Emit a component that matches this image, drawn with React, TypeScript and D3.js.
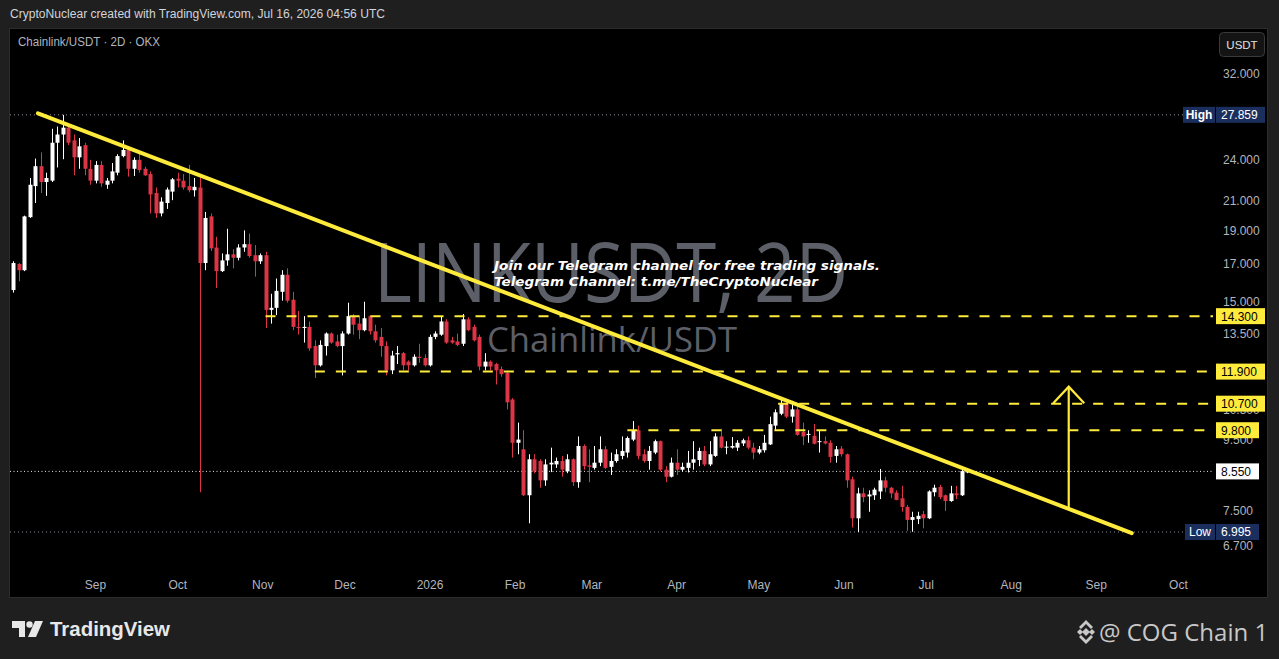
import * as d3 from 'd3'

const W = 1279
const H = 659

// 2D candles, first bar opens Aug 1 2025
const firstBar = new Date(2025, 7, 1)

const opens = [
  15.59, 17.0, 16.65, 19.85, 22.0, 23.5, 22.3, 22.4, 25.4, 26.1, 26.7, 25.6, 24.2, 25.2, 23.3, 22.4, 23.6, 22.1, 22.4, 23.0,
  24.3, 24.8, 23.3, 24.0, 23.3, 22.9, 21.5, 20.1, 20.8, 21.6, 22.55, 22.4, 22.0, 21.7, 21.9, 17.05, 19.9, 17.95, 16.6, 17.2,
  17.55, 17.35, 17.95, 18.15, 17.5, 17.15, 17.5, 14.6, 14.7, 15.5, 16.4, 15.1, 13.8, 13.75, 13.8, 12.95, 12.15, 12.95, 13.5, 13.15,
  12.95, 13.5, 14.3, 13.95, 13.65, 14.3, 13.6, 13.35, 12.95, 11.95, 12.6, 12.65, 12.3, 12.15, 12.5, 12.45, 12.15, 13.35, 13.45, 14.05,
  13.2, 13.15, 13.05, 14.15, 13.8, 13.35, 12.1, 12.3, 12.2, 12.0, 11.85, 10.85, 9.4, 9.2, 7.9, 8.9, 8.85, 8.3, 8.75, 8.75,
  8.85, 8.55, 8.9, 8.25, 9.3, 8.72, 8.65, 8.8, 9.2, 8.68, 8.85, 9.0, 9.1, 9.5, 9.8, 9.05, 8.85, 9.1, 9.45, 8.6,
  8.4, 8.8, 8.6, 8.65, 8.8, 8.88, 9.15, 8.75, 9.0, 9.6, 9.25, 9.25, 9.25, 9.38, 9.48, 9.25, 9.1, 9.17, 9.35, 9.95,
  10.35, 10.7, 10.25, 10.5, 9.75, 9.65, 9.62, 9.43, 9.45, 9.4, 9.0, 9.22, 9.05, 8.33, 7.32, 7.95, 7.87, 7.9, 8.0, 8.3,
  8.1, 7.97, 7.82, 7.6, 7.28, 7.3, 7.42, 7.32, 7.98, 8.12, 7.9, 7.75, 7.95, 7.9, 8.54,
]
const highs = [
  17.15, 17.05, 19.95, 22.6, 24.1, 24.6, 23.0, 26.6, 26.8, 27.859, 26.8, 26.1, 25.8, 25.4, 24.0, 23.9, 23.9, 22.6, 23.75, 24.45,
  25.6, 24.9, 24.2, 24.7, 23.45, 23.1, 21.9, 21.2, 21.9, 22.6, 23.0, 22.9, 23.6, 22.6, 22.75, 20.2, 20.1, 18.6, 17.6, 19.1,
  17.85, 18.15, 19.0, 18.8, 18.1, 17.6, 17.7, 15.4, 16.2, 16.65, 16.75, 15.5, 14.55, 14.3, 14.05, 13.2, 13.2, 13.55, 13.55, 13.45,
  13.6, 14.95, 14.4, 14.3, 15.0, 14.35, 13.9, 13.75, 13.15, 12.75, 12.95, 12.7, 12.35, 12.6, 13.05, 12.6, 13.45, 13.6, 14.3, 14.15,
  13.35, 13.5, 14.4, 14.25, 13.9, 13.45, 12.65, 12.35, 12.25, 12.1, 11.9, 10.9, 10.05, 9.8, 9.05, 9.05, 8.9, 8.9, 9.25, 8.95,
  9.0, 9.05, 8.93, 9.6, 9.35, 9.2, 9.3, 9.6, 9.3, 9.1, 9.2, 9.6, 9.6, 10.1, 9.95, 9.2, 9.3, 9.5, 9.47, 8.7,
  8.95, 9.2, 8.8, 9.15, 9.45, 9.25, 9.3, 9.45, 9.7, 9.85, 9.45, 9.58, 9.48, 9.53, 9.6, 9.4, 9.3, 9.65, 10.25, 10.5,
  10.9, 10.8, 10.8, 10.6, 10.05, 9.8, 10.0, 9.8, 9.6, 9.48, 9.3, 9.3, 9.07, 8.4, 8.1, 8.1, 8.03, 8.1, 8.62, 8.4,
  8.12, 8.03, 8.15, 7.65, 7.48, 7.48, 7.5, 8.03, 8.18, 8.18, 7.92, 8.15, 8.15, 8.63, 8.62,
]
const lows = [
  15.46, 16.05, 16.6, 19.8, 20.8, 21.5, 21.3, 22.3, 23.4, 24.05, 25.2, 22.8, 23.3, 22.8, 22.1, 22.2, 21.95, 21.8, 22.2, 22.8,
  24.2, 22.7, 22.75, 23.0, 22.75, 20.1, 19.8, 19.9, 20.4, 21.0, 21.9, 21.75, 21.55, 21.25, 7.98, 16.65, 17.75, 15.7, 16.55, 16.9,
  16.75, 17.2, 17.7, 17.35, 16.3, 17.0, 13.75, 13.95, 14.35, 15.05, 14.95, 13.65, 13.45, 13.1, 12.75, 11.65, 12.1, 12.55, 13.05, 12.9,
  11.75, 13.45, 13.45, 13.25, 13.6, 13.45, 13.1, 12.5, 11.75, 11.8, 12.2, 11.95, 11.95, 12.1, 12.25, 12.1, 12.1, 13.25, 13.4, 13.05,
  13.05, 12.95, 12.95, 13.6, 13.15, 11.95, 11.95, 11.95, 11.4, 11.7, 10.5, 8.95, 9.05, 7.88, 7.2, 8.5, 8.1, 8.15, 8.53, 8.65,
  8.4, 8.5, 8.15, 8.1, 8.6, 8.25, 8.6, 8.7, 8.62, 8.45, 8.8, 8.9, 8.95, 9.45, 8.9, 8.8, 8.6, 9.05, 8.55, 8.25,
  8.38, 8.45, 8.55, 8.52, 8.6, 8.7, 8.7, 8.7, 8.97, 9.23, 9.05, 9.22, 9.15, 9.3, 9.2, 8.9, 9.05, 9.1, 9.33, 9.8,
  10.3, 10.2, 10.05, 9.62, 9.33, 9.4, 9.35, 9.1, 9.35, 8.8, 8.8, 8.98, 8.1, 7.1, 6.995, 7.72, 7.48, 7.78, 7.8, 7.98,
  7.82, 7.77, 7.48, 7.02, 7.0, 7.18, 7.08, 7.3, 7.87, 7.8, 7.5, 7.73, 7.8, 7.88, 8.5,
]
const closes = [
  17.05, 16.65, 19.9, 22.1, 23.5, 22.3, 22.6, 25.4, 26.1, 26.7, 25.4, 24.2, 25.1, 23.3, 22.4, 23.6, 22.2, 22.4, 23.1, 24.3,
  24.8, 23.3, 24.0, 23.2, 22.8, 21.4, 20.1, 20.9, 21.75, 22.5, 22.4, 21.9, 21.7, 21.95, 17.05, 19.8, 17.9, 16.6, 17.2, 17.55,
  17.35, 17.95, 18.15, 17.45, 17.15, 17.5, 14.6, 14.7, 15.55, 16.4, 15.05, 13.8, 13.75, 13.8, 12.85, 12.15, 13.0, 13.5, 13.1, 12.95,
  13.5, 14.3, 13.9, 13.65, 14.2, 13.6, 13.2, 12.95, 11.95, 12.55, 12.65, 12.15, 12.15, 12.5, 12.45, 12.15, 13.35, 13.5, 14.05, 13.1,
  13.1, 13.0, 14.15, 13.65, 13.2, 12.1, 12.3, 12.1, 11.95, 11.8, 10.75, 9.4, 9.5, 7.9, 8.9, 8.55, 8.3, 8.75, 8.8, 8.85,
  8.6, 8.9, 8.25, 9.3, 8.7, 8.68, 8.8, 9.2, 8.65, 8.85, 9.05, 9.15, 9.55, 9.8, 9.0, 8.85, 9.15, 9.45, 8.6, 8.4,
  8.8, 8.6, 8.68, 8.8, 8.9, 9.15, 8.75, 9.05, 9.6, 9.25, 9.28, 9.3, 9.4, 9.48, 9.25, 9.1, 9.2, 9.4, 10.0, 10.4,
  10.7, 10.25, 10.5, 9.65, 9.6, 9.68, 9.37, 9.45, 9.38, 8.97, 9.2, 9.05, 8.3, 7.32, 7.95, 7.85, 7.92, 8.05, 8.3, 8.1,
  7.95, 7.78, 7.6, 7.28, 7.35, 7.38, 7.32, 8.0, 8.1, 7.85, 7.75, 7.95, 7.9, 8.56, 8.55,
]

// visible price-scale labels (the others sit under the level boxes)
const priceTicks = [32, 24, 21, 19, 17, 15, 13.5, 10.5, 9.5, 7.5, 6.7]
const monthTicks = [
  { d: new Date(2025, 8, 1), t: 'Sep' },
  { d: new Date(2025, 9, 1), t: 'Oct' },
  { d: new Date(2025, 10, 1), t: 'Nov' },
  { d: new Date(2025, 11, 1), t: 'Dec' },
  { d: new Date(2026, 0, 1), t: '2026' },
  { d: new Date(2026, 1, 1), t: 'Feb' },
  { d: new Date(2026, 2, 1), t: 'Mar' },
  { d: new Date(2026, 3, 1), t: 'Apr' },
  { d: new Date(2026, 4, 1), t: 'May' },
  { d: new Date(2026, 5, 1), t: 'Jun' },
  { d: new Date(2026, 6, 1), t: 'Jul' },
  { d: new Date(2026, 7, 1), t: 'Aug' },
  { d: new Date(2026, 8, 1), t: 'Sep' },
  { d: new Date(2026, 9, 1), t: 'Oct' },
]

// horizontal support / resistance levels and where they start
const levels = [14.3, 11.9, 10.7, 9.8]
const levelFrom = [new Date(2025, 10, 2), new Date(2025, 10, 20), new Date(2026, 4, 8), new Date(2026, 2, 14)]

const highPrice = 27.859
const lowPrice = 6.995
const lastPrice = 8.55

// descending trendline and target arrow
const trendStart = { d: new Date(2025, 7, 11), p: 28.0 }
const trendEnd = { d: new Date(2026, 8, 14), p: 6.97 }
const arrow = { d: new Date(2026, 7, 22), from: 7.6, to: 11.32 }

const YELLOW = '#ffeb3b'
const RED = '#dc3545'
const AXIS_TXT = '#b2b5be'
const FONT = '"Liberation Sans", Arial, sans-serif'

const plot = { x0: 10, x1: 1213, y0: 29, y1: 597 }

export default function App() {
  const x = d3
    .scaleTime()
    .domain([new Date(2025, 7, 2), new Date(2026, 6, 16)])
    .range([13.3, 967.3])
  const y = d3.scaleLog().domain([6.7, 32]).range([545, 73])

  const bars = opens.map((o, i) => ({
    cx: x(d3.timeDay.offset(firstBar, 2 * i + 1)),
    o,
    h: highs[i],
    l: lows[i],
    c: closes[i],
  }))

  const fmt = d3.format('.3f')
  const ax = x(arrow.d)
  const aTop = y(arrow.to)

  const priceBox = (p: number, fill: string, color: string, key: string) => {
    const txt = fmt(p)
    const w = txt.length > 5 ? 49 : 43
    return (
      <g key={key}>
        <rect x={1216} y={y(p) - 8} width={w} height={16} fill={fill} />
        <text x={1221} y={y(p) + 4.5} fontSize={12} fill={color} fontFamily={FONT}>
          {txt}
        </text>
      </g>
    )
  }

  return (
    <div style={{ position: 'fixed', left: 0, top: 0 }}>
      <svg width={W} height={H} style={{ display: 'block', background: '#1f1f1f' }}>
        <text x={10} y={18} fontSize={12.5} fill="#d1d4dc" fontFamily={FONT} textLength={375} lengthAdjust="spacingAndGlyphs">
          CryptoNuclear created with TradingView.com, Jul 16, 2026 04:56 UTC
        </text>

        <rect x={9.5} y={28.5} width={1258} height={569} fill="#000" stroke="#2c2c2c" />

        <defs>
          <clipPath id="plotClip">
            <rect x={plot.x0} y={plot.y0} width={plot.x1 - plot.x0} height={plot.y1 - plot.y0} />
          </clipPath>
        </defs>

        <text x={18} y={46} fontSize={12} fill={AXIS_TXT} fontFamily={FONT} textLength={142} lengthAdjust="spacingAndGlyphs">
          Chainlink/USDT · 2D · OKX
        </text>

        {/* watermark */}
        <text x={374} y={302} fontSize={82} fill="#5c5f67" fontFamily={'"Open Sans", sans-serif'} textLength={474} lengthAdjust="spacingAndGlyphs">
          LINKUSDT, 2D
        </text>
        <text x={487} y={352} fontSize={35} fill="#5c5f67" fontFamily={'"Open Sans", sans-serif'} textLength={250} lengthAdjust="spacingAndGlyphs">
          Chainlink/USDT
        </text>

        <g clipPath="url(#plotClip)">
          {/* high / low / last price dotted lines */}
          <line x1={plot.x0} x2={1183} y1={y(highPrice)} y2={y(highPrice)} stroke="#8a8d96" strokeDasharray="1 3" />
          <line x1={plot.x0} x2={1185} y1={y(lowPrice)} y2={y(lowPrice)} stroke="#8a8d96" strokeDasharray="1 3" />
          <line x1={plot.x0} x2={plot.x1} y1={y(lastPrice)} y2={y(lastPrice)} stroke="#e6e6e6" strokeDasharray="1 2.5" />

          {bars.map((b, i) => {
            const up = b.c >= b.o
            const col = up ? '#ffffff' : RED
            const top = y(Math.max(b.o, b.c))
            const bot = y(Math.min(b.o, b.c))
            const cx = Math.round(b.cx)
            return (
              <g key={i}>
                <line x1={cx + 0.5} x2={cx + 0.5} y1={y(b.h)} y2={y(b.l)} stroke={col} strokeWidth={1} />
                <rect x={cx - 1.5} y={top} width={4} height={Math.max(1, bot - top)} fill={col} />
              </g>
            )
          })}

          {levels.map((p, i) => (
            <line
              key={p}
              x1={x(levelFrom[i])}
              x2={plot.x1}
              y1={y(p)}
              y2={y(p)}
              stroke={YELLOW}
              strokeWidth={2}
              strokeDasharray="10 11"
            />
          ))}

          <line
            x1={x(trendStart.d)}
            y1={y(trendStart.p)}
            x2={x(trendEnd.d)}
            y2={y(trendEnd.p)}
            stroke={YELLOW}
            strokeWidth={4}
            strokeLinecap="round"
          />

          <line x1={ax} x2={ax} y1={y(arrow.from)} y2={aTop} stroke={YELLOW} strokeWidth={2.2} />
          <polyline
            points={`${ax - 15.5},${aTop + 16.5} ${ax},${aTop} ${ax + 15.5},${aTop + 16.5}`}
            fill="none"
            stroke={YELLOW}
            strokeWidth={2.2}
          />
        </g>

        <g fontFamily={'"DejaVu Sans", sans-serif'} fontWeight="bold" fontStyle="italic" fill="#ffffff" fontSize={13}>
          <text x={494} y={270} textLength={386} lengthAdjust="spacingAndGlyphs">
            Join our Telegram channel for free trading signals.
          </text>
          <text x={494} y={286} textLength={324} lengthAdjust="spacingAndGlyphs">
            Telegram Channel: t.me/TheCryptoNuclear
          </text>
        </g>

        {/* price axis */}
        <rect x={1219.5} y={32.5} width={45} height={24} rx={4} fill="#141414" stroke="#3a3a3a" />
        <text x={1242} y={49} textAnchor="middle" fontSize={11.5} fill="#e0e0e0" fontFamily={FONT}>
          USDT
        </text>
        {priceTicks.map((p) => (
          <text key={p} x={1223} y={y(p) + 4.5} fontSize={12} fill={AXIS_TXT} fontFamily={FONT}>
            {fmt(p)}
          </text>
        ))}

        <rect x={1183} y={y(highPrice) - 8} width={32} height={16} fill="#1b2f5e" />
        <text x={1199} y={y(highPrice) + 4.5} textAnchor="middle" fontSize={12} fill="#fff" fontFamily={FONT} fontWeight="bold">
          High
        </text>
        {priceBox(highPrice, '#1b2f5e', '#ffffff', 'hi')}
        <rect x={1185} y={y(lowPrice) - 8} width={30} height={16} fill="#1b2f5e" />
        <text x={1200} y={y(lowPrice) + 4.5} textAnchor="middle" fontSize={12} fill="#fff" fontFamily={FONT}>
          Low
        </text>
        {priceBox(lowPrice, '#1b2f5e', '#ffffff', 'lo')}
        {levels.map((p) => priceBox(p, YELLOW, '#000000', 'lv' + p))}
        {priceBox(lastPrice, '#ffffff', '#000000', 'last')}

        {/* time axis */}
        {monthTicks.map((m, i) => (
          <text key={i} x={x(m.d)} y={589} textAnchor="middle" fontSize={12} fill={AXIS_TXT} fontFamily={FONT}>
            {m.t}
          </text>
        ))}

        {/* footer */}
        <g fill="#e8e8e8">
          <path d="M12 621 h13 v16 h-6 v-9 h-7 z" />
          <circle cx={29.5} cy={624.5} r={3.2} />
          <path d="M35 621 h8 l-7 16 h-8 z" />
        </g>
        <text x={50} y={636} fontSize={20} fontWeight="bold" fill="#e8e8e8" fontFamily={FONT} textLength={120} lengthAdjust="spacingAndGlyphs">
          TradingView
        </text>

        <g fill="#c8c8c8" transform="translate(1086,632)">
          <path d="M0 -4 L4 0 L0 4 L-4 0 Z" />
          <path d="M-9 0 L-6 -3 L-3 0 L-6 3 Z" />
          <path d="M9 0 L6 -3 L3 0 L6 3 Z" />
          <path d="M0 -12 L7 -5 L5 -3 L0 -8 L-5 -3 L-7 -5 Z" />
          <path d="M0 12 L7 5 L5 3 L0 8 L-5 3 L-7 5 Z" />
        </g>
        <text x={1099} y={641} fontSize={24} fill="#c8c8c8" fontFamily={'"Open Sans", sans-serif'}>
          @ COG Chain 1
        </text>
      </svg>
    </div>
  )
}
